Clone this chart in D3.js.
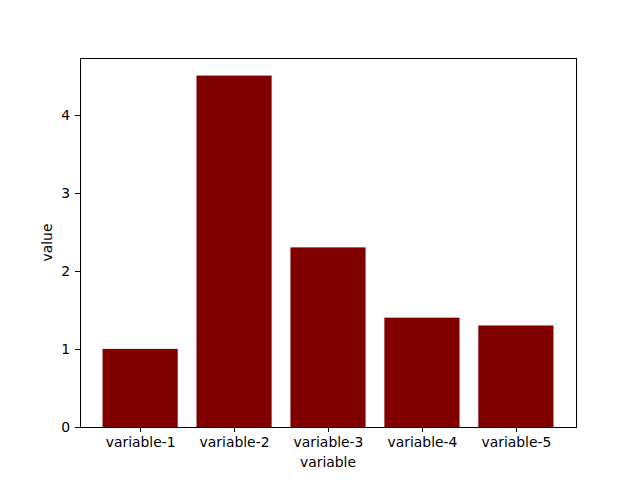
<!DOCTYPE html>
<html><head><meta charset="utf-8">
<script src="https://cdn.jsdelivr.net/npm/d3@7"></script>
<style>body{margin:0;background:#fff}svg{display:block}text{font-family:"DejaVu Sans",sans-serif}</style>
</head><body>
<script>
const categories = ["variable-1","variable-2","variable-3","variable-4","variable-5"];
const values = [1.0, 4.5, 2.3, 1.4, 1.3];
const yTicks = [0,1,2,3,4];

const W=640,H=480;
const L=80,R=576,T=58,B=427;
const svg=d3.select("body").append("svg").attr("width",W).attr("height",H);
svg.append("rect").attr("width",W).attr("height",H).attr("fill","#fff");

const n=categories.length;
const span=(n-1)+0.8;
const x=d3.scaleLinear().domain([-0.4-0.05*span,(n-1)+0.4+0.05*span]).range([L,R]);
const y=d3.scaleLinear().domain([0,d3.max(values)*1.05]).range([B,T]);

svg.selectAll("rect.bar").data(values).enter().append("rect")
 .attr("class","bar")
 .attr("x",(d,i)=>x(i-0.4)).attr("width",(d,i)=>x(i+0.4)-x(i-0.4))
 .attr("y",d=>y(d)).attr("height",d=>y(0)-y(d))
 .attr("fill","#800000");

const fs=13.9;
const xa=svg.append("g").attr("transform",`translate(0,${B})`)
 .call(d3.axisBottom(x).tickValues(d3.range(n)).tickFormat(i=>categories[i]).tickSizeOuter(0).tickSize(4.9).tickPadding(4.9));
const ya=svg.append("g").attr("transform",`translate(${L},0)`)
 .call(d3.axisLeft(y).tickValues(yTicks).tickFormat(d3.format("d")).tickSizeOuter(0).tickSize(4.9).tickPadding(4.9));
[xa,ya].forEach(a=>{a.select(".domain").remove();a.selectAll("text").attr("font-size",fs).attr("fill","#000").style("font-family","DejaVu Sans");a.selectAll("line").attr("stroke","#000").attr("stroke-width",1).attr("shape-rendering","crispEdges");});

svg.append("rect").attr("x",L).attr("y",T).attr("width",R-L).attr("height",B-T)
 .attr("fill","none").attr("stroke","#000").attr("stroke-width",1).attr("shape-rendering","crispEdges");

svg.append("text").attr("x",(L+R)/2).attr("y",467).attr("text-anchor","middle").attr("font-size",fs).text("variable");
svg.append("text").attr("transform",`translate(52,${(T+B)/2}) rotate(-90)`).attr("text-anchor","middle").attr("font-size",fs).text("value");
</script>
</body></html>
